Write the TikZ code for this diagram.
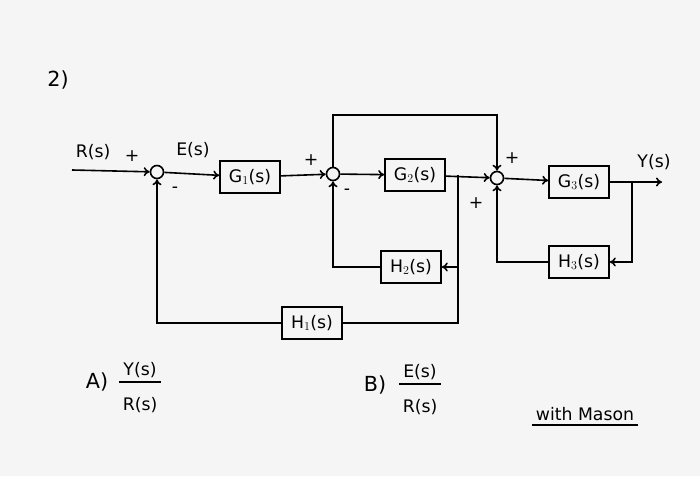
\documentclass[tikz,border=0pt]{standalone}
\usepackage{fontspec}
\setmainfont{DejaVu Sans}
\usetikzlibrary{arrows.meta}
\begin{document}
\begin{tikzpicture}[x=1pt,y=-1pt,line width=1.6pt,
  blk/.style={draw,minimum width=60pt,minimum height=32pt,inner sep=1pt,font=\LARGE},
  sum/.style={draw,circle,minimum size=13pt,inner sep=0pt},
  arr/.style={-{To[length=6pt,width=9pt]}},
  lab/.style={font=\LARGE}]
\useasboundingbox (0,0) rectangle (700,476);
\fill[white!96!black] (0,0) rectangle (700,476);
\node[font=\huge] (num) at (58,80) {2)};
\coordinate (rin) at (72,170);
\node[lab] (rl) at (93,152) {R(s)};
\node[sum] (s1) at (157,172) {};
\node[lab] (el) at (193,150) {E(s)};
\node[blk] (g1) at (250,177) {G$_1$(s)};
\node[sum] (s2) at (333,174) {};
\node[blk] (g2) at (415,175) {G$_2$(s)};
\node[sum] (s3) at (497,178) {};
\node[blk] (g3) at (579,182) {G$_3$(s)};
\coordinate (yout) at (662,182);
\node[lab] (yl) at (654,162) {Y(s)};
\node[blk] (h2) at (411,267) {H$_2$(s)};
\node[blk] (h3) at (579,262) {H$_3$(s)};
\node[blk] (h1) at (312,323) {H$_1$(s)};
\coordinate (b2) at (458,175);
\coordinate (b3) at (632,182);
\draw[arr] (rin) -- (s1);
\draw[arr] (s1) -- (g1);
\draw[arr] (g1) -- (s2);
\draw[arr] (s2) -- (g2);
\draw[arr] (g2) -- (s3);
\draw[arr] (s3) -- (g3);
\draw[arr] (g3) -- (yout);
\draw[arr] (s2.north) -- ++(0,-52) -| (s3.north);
\draw[arr] (b2) |- (h2.east);
\draw (b2) |- (h1.east);
\draw[arr] (h1.west) -| (s1.south);
\draw[arr] (h2.west) -| (s2.south);
\draw[arr] (b3) |- (h3.east);
\draw[arr] (h3.west) -| (s3.south);
\node[lab] at (132,156) {+};
\node[lab] at (175,190) {-};
\node[lab] at (311,160) {+};
\node[lab] at (347,192) {-};
\node[lab] at (512,158) {+};
\node[lab] at (476,203) {+};
\node[font=\huge] (qa) at (97,382) {A)};
\node[font=\LARGE] (qat) at (140,370) {Y(s)};
\node[font=\LARGE] (qab) at (140,405) {R(s)};
\draw (qat.south west) -- (qat.south east);
\node[font=\huge] (qb) at (375,385) {B)};
\node[font=\LARGE] (qbt) at (420,372) {E(s)};
\node[font=\LARGE] (qbb) at (420,407) {R(s)};
\draw (qbt.south west) -- (qbt.south east);
\node[font=\LARGE] (wm) at (585,414) {with Mason};
\draw (wm.south west) -- (wm.south east);
\end{tikzpicture}
\end{document}
